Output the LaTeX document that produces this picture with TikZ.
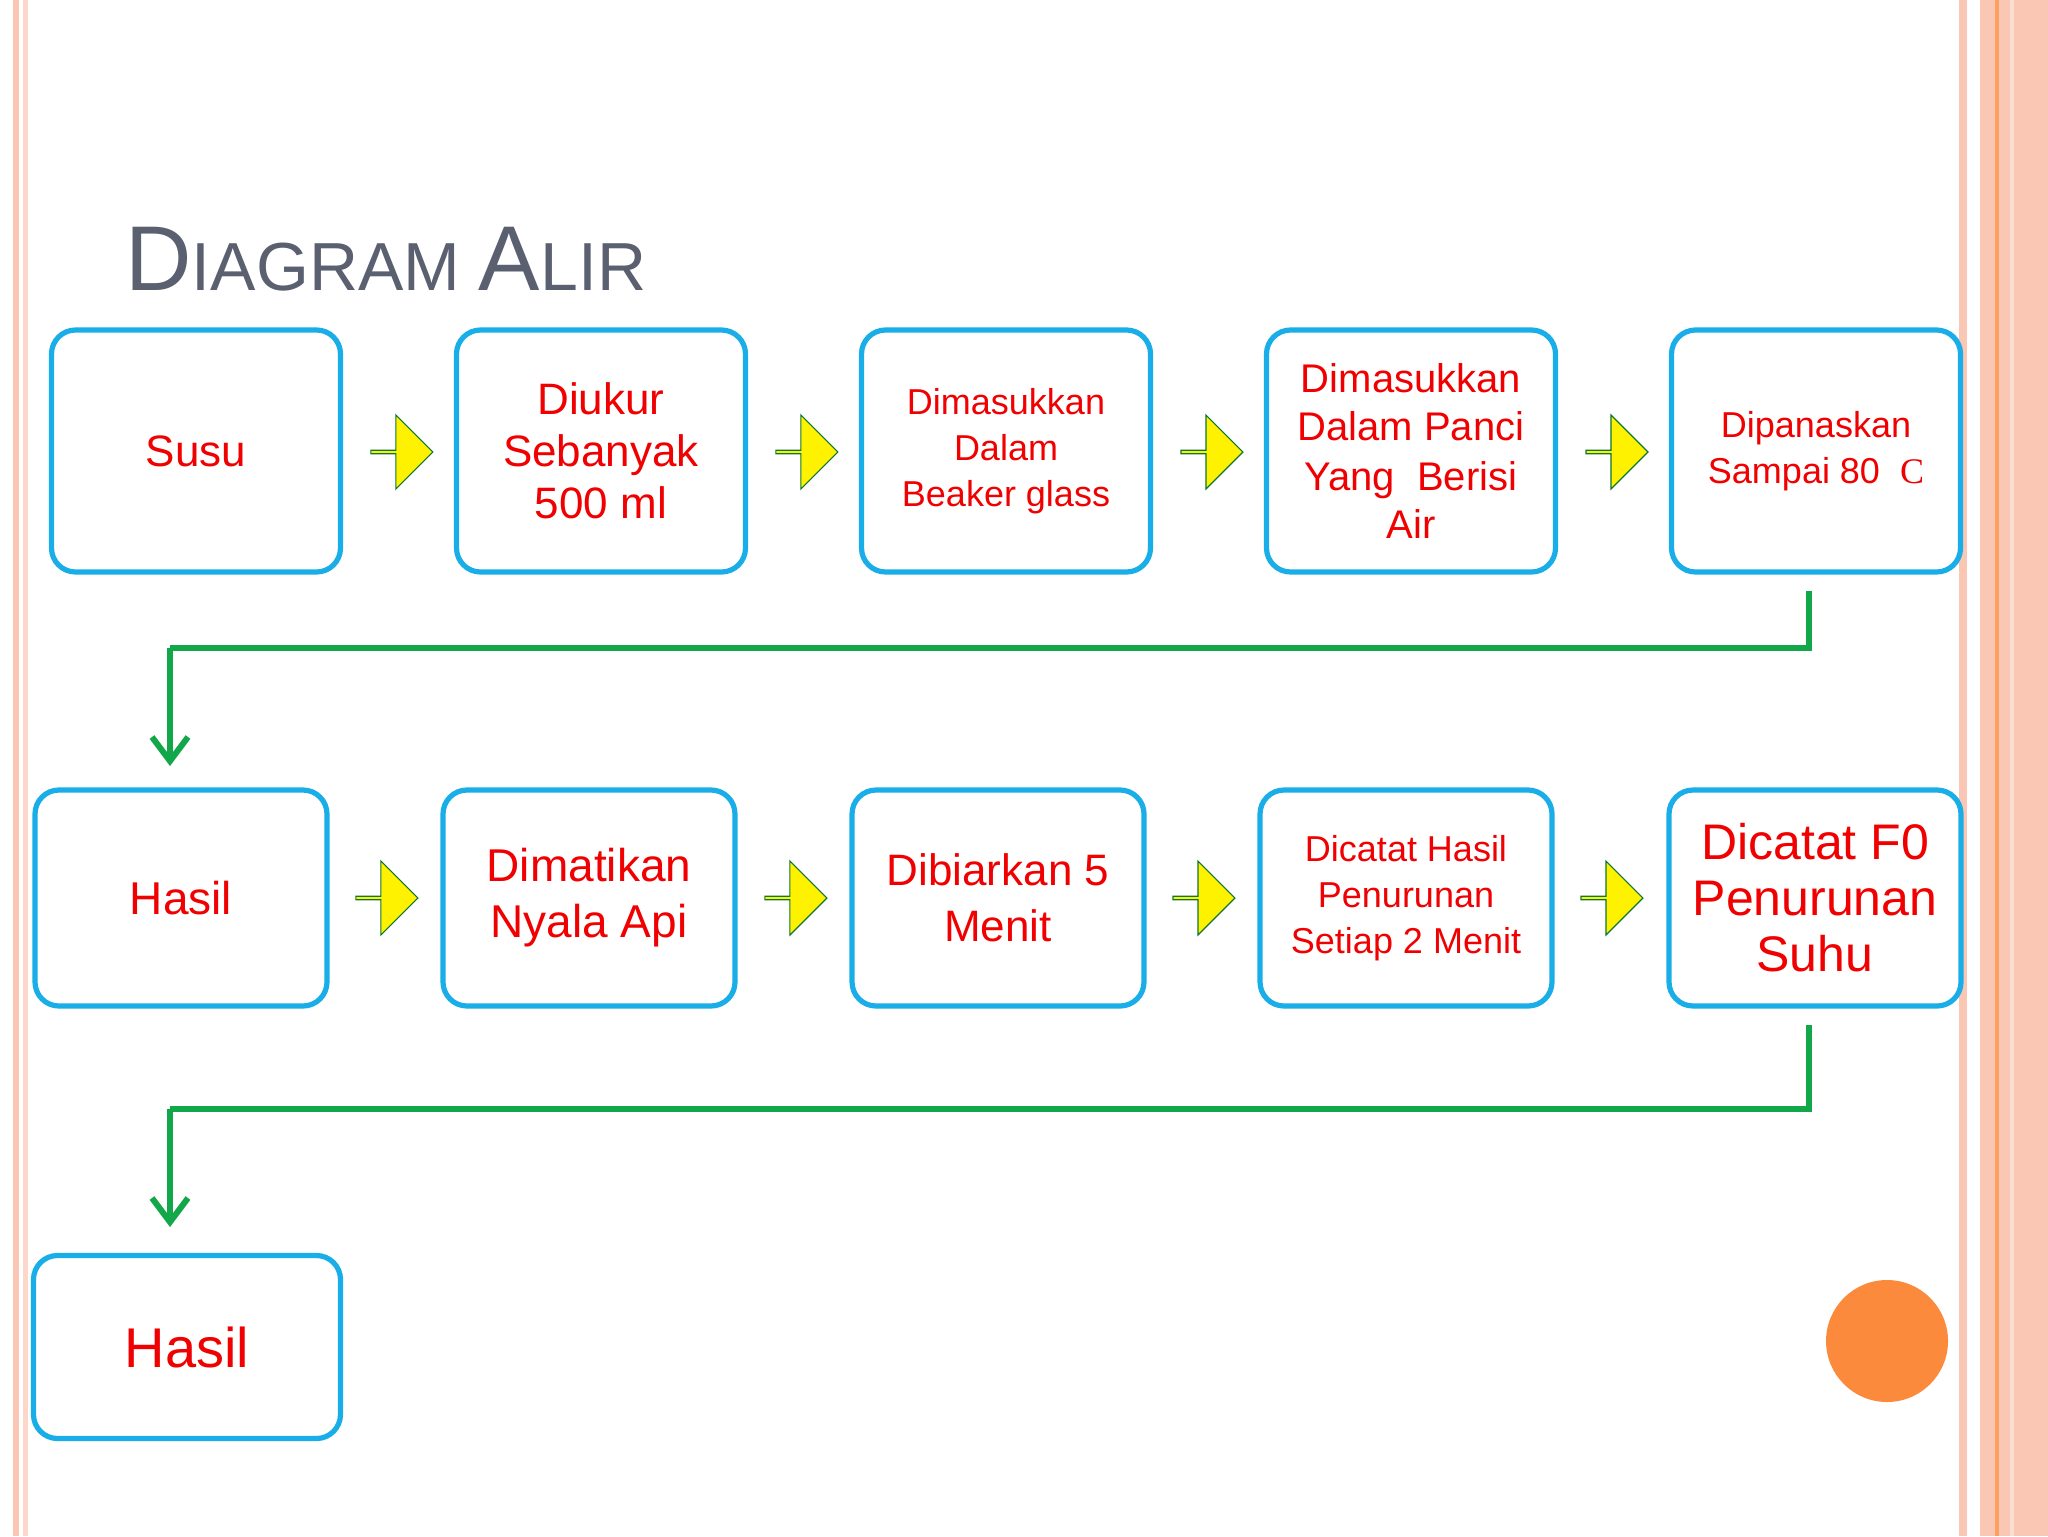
\documentclass[tikz,border=0pt]{standalone}
\usepackage{fontspec}
\setmainfont{Liberation Sans}
\usetikzlibrary{shapes.arrows,arrows.meta}
\definecolor{bx}{HTML}{1AAEE8}
\definecolor{tx}{HTML}{F00000}
\definecolor{gr}{HTML}{12A84A}
\definecolor{sal}{HTML}{F9C7B3}
\definecolor{org}{HTML}{FC8A3C}
\definecolor{ttl}{HTML}{5A6070}
\tikzset{
 box/.style={draw=bx,line width=2.6pt,rounded corners=12pt,fill=white,text=tx,align=center,inner sep=0pt},
 yar/.style={single arrow,draw=gr!70!black,line width=0.6pt,fill=yellow,minimum height=31pt,minimum width=37pt,single arrow head extend=6pt,inner sep=0pt,anchor=center,shape border rotate=0,single arrow tip angle=90},
 flow/.style={draw=gr,line width=3pt},
 tip/.style={-{Straight Barb[length=12pt,width=18pt,line width=3pt]}}
}
\begin{document}
\begin{tikzpicture}[x=0.5pt,y=-0.5pt]
\useasboundingbox (0,0) rectangle (2048,1536);
\fill[white] (0,0) rectangle (2048,1536);
% borders
\fill[sal] (13,0) rectangle (19,1536);
\fill[sal!70] (23,0) rectangle (28,1536);
\fill[sal] (1959,0) rectangle (1967,1536);
\fill[sal] (1980,0) rectangle (2048,1536);
\fill[org!80] (1995,0) rectangle (1999,1536);
\fill[sal!60] (2010,0) rectangle (2014,1536);
% title
\node[anchor=base west,text=ttl,font=\fontsize{46}{50}\selectfont,inner sep=0pt] (title) at (125,290) {D\fontsize{34}{40}\selectfont IAGRAM \fontsize{46}{50}\selectfont A\fontsize{34}{40}\selectfont LIR};
% row 1
\node[box,minimum width=144.5pt,minimum height=121pt,font=\fontsize{22}{26}\selectfont] (a1) at (196,451) {Susu};
\node[box,minimum width=144.5pt,minimum height=121pt,font=\fontsize{22}{26}\selectfont] (a2) at (601,451) {Diukur\\Sebanyak\\500 ml};
\node[box,minimum width=144.5pt,minimum height=121pt,font=\fontsize{18}{23}\selectfont] (a3) at (1006,451) {Dimasukkan\\Dalam\\Beaker glass};
\node[box,minimum width=144.5pt,minimum height=121pt,font=\fontsize{20}{24.5}\selectfont] (a4) at (1411,451) {Dimasukkan\\Dalam Panci\\Yang\ \ Berisi\\Air};
\node[box,minimum width=144.5pt,minimum height=121pt,font=\fontsize{18}{23}\selectfont] (a5) at (1816,451) {Dipanaskan\\Sampai 80\ \ {\fontspec{Liberation Serif}C}};
% row 2
\node[box,minimum width=146pt,minimum height=108pt,font=\fontsize{23}{28}\selectfont] (b1) at (181,898) {Hasil};
\node[box,minimum width=146pt,minimum height=108pt,font=\fontsize{23}{28}\selectfont] (b2) at (589,898) {Dimatikan\\Nyala Api};
\node[box,minimum width=146pt,minimum height=108pt,font=\fontsize{22}{28}\selectfont] (b3) at (998,898) {Dibiarkan 5\\Menit};
\node[box,minimum width=146pt,minimum height=108pt,font=\fontsize{18}{23}\selectfont] (b4) at (1406,898) {Dicatat Hasil\\Penurunan\\Setiap 2 Menit};
\node[box,minimum width=146pt,minimum height=108pt,font=\fontsize{25}{28}\selectfont] (b5) at (1815,898) {Dicatat F0\\Penurunan\\Suhu};
% row 3
\node[box,minimum width=153.5pt,minimum height=91.5pt,font=\fontsize{28}{32}\selectfont] (c1) at (187,1347) {Hasil};
% yellow arrows
\foreach \x/\n in {401/p1,806/p2,1211/p3,1616/p4}{\node[yar] (\n) at (\x,452) {};}
\foreach \x/\n in {386/q1,795/q2,1203/q3,1611/q4}{\node[yar] (\n) at (\x,898) {};}
% green connectors
\coordinate (k1) at (1809,648);
\coordinate (k2) at (170,648);
\coordinate (k3) at (1809,1109);
\coordinate (k4) at (170,1109);
\draw[flow] ([yshift=-8pt]a5.south -| k1) -- (k1) -- (k2);
\draw[flow,tip] (k2) -- ([yshift=0pt]k2 |- 0,766);
\draw[flow] (k3 |- 0,1025) -- (k3) -- (k4);
\draw[flow,tip] (k4) -- (k4 |- 0,1227);
% circle
\fill[org] (1887,1341) circle (30.5pt);
\end{tikzpicture}
\end{document}
